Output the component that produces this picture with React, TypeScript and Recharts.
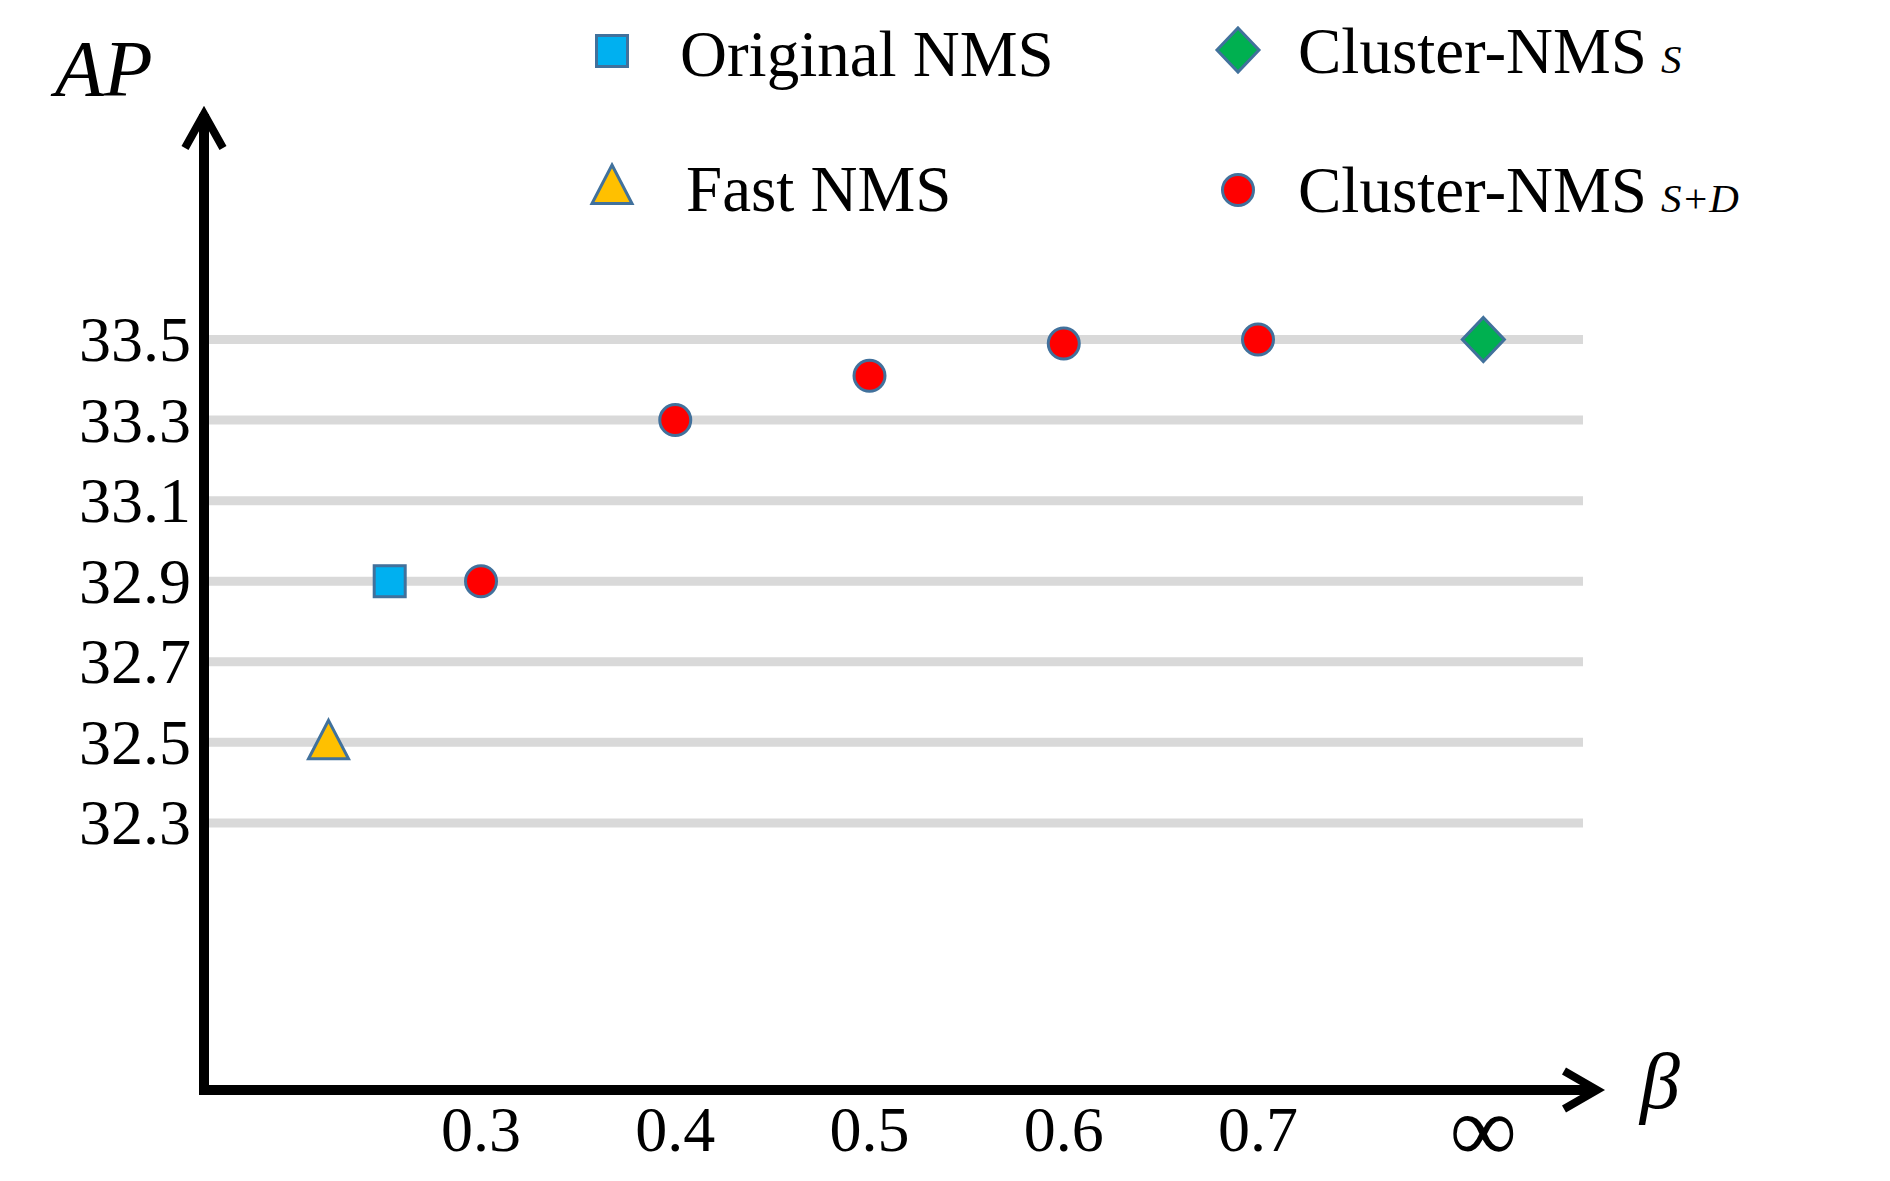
import {
  ScatterChart,
  Scatter,
  XAxis,
  YAxis,
  CartesianGrid,
  Customized,
} from 'recharts'

// beta values on the x axis; "∞" is drawn at its own slot past 0.7
const betaTicks = [0.3, 0.4, 0.5, 0.6, 0.7]
const INF_POS = 0.816
const xTicks = [...betaTicks, INF_POS]
const xTickLabels = ['0.3', '0.4', '0.5', '0.6', '0.7', '∞']

const apTicks = [32.3, 32.5, 32.7, 32.9, 33.1, 33.3, 33.5]

// Cluster-NMS S+D over beta
const clusterSDBeta = [0.3, 0.4, 0.5, 0.6, 0.7]
const clusterSDAP = [32.9, 33.3, 33.41, 33.49, 33.5]

// single-point methods (placed left of 0.3 like the figure)
const clusterSAP = 33.5
const originalPos = 0.253
const originalAP = 32.9
const fastPos = 0.2215
const fastAP = 32.5

const clusterSDData = clusterSDBeta.map((b, i) => ({ beta: b, ap: clusterSDAP[i] }))
const clusterSData = [{ beta: INF_POS, ap: clusterSAP }]
const originalData = [{ beta: originalPos, ap: originalAP }]
const fastData = [{ beta: fastPos, ap: fastAP }]

const W = 1890
const H = 1181
const PLOT_LEFT = 204
const PLOT_TOP = 120
const PLOT_RIGHT = 1583
const PLOT_BOTTOM = 1090
const Y_AXIS_W = 120
const X_AXIS_H = 40
const X_DOMAIN = [0.1574, 0.8673]
const Y_DOMAIN = [31.637, 34.045]

const FONT = '"Liberation Serif", "Times New Roman", serif'
const OUTLINE = '#41719C'
const RED = '#FF0000'
const CYAN = '#00B0F0'
const GOLD = '#FFC000'
const GREEN = '#00B050'

function CircleMark({ cx, cy }: any) {
  return <circle cx={cx} cy={cy} r={15.5} fill={RED} stroke={OUTLINE} strokeWidth={3} />
}

function SquareMark({ cx, cy }: any) {
  return (
    <rect x={cx - 15.5} y={cy - 15.5} width={31} height={31} fill={CYAN} stroke={OUTLINE} strokeWidth={3} />
  )
}

function TriangleMark({ cx, cy }: any) {
  return (
    <polygon
      points={`${cx},${cy - 22} ${cx + 20},${cy + 16.5} ${cx - 20},${cy + 16.5}`}
      fill={GOLD}
      stroke={OUTLINE}
      strokeWidth={3}
    />
  )
}

function DiamondMark({ cx, cy }: any) {
  return (
    <polygon
      points={`${cx},${cy - 22} ${cx + 21},${cy} ${cx},${cy + 22} ${cx - 21},${cy}`}
      fill={GREEN}
      stroke={OUTLINE}
      strokeWidth={3}
    />
  )
}

function XTick({ x, y, payload }: any) {
  const i = xTicks.indexOf(payload.value)
  const label = xTickLabels[i] ?? ''
  const isInf = label === '∞'
  return (
    <text
      x={x}
      y={y + 39}
      textAnchor="middle"
      dominantBaseline="central"
      fontFamily={FONT}
      fontSize={isInf ? 94 : 64}
      fill="#000"
    >
      {label}
    </text>
  )
}

function YTick({ x, y, payload }: any) {
  return (
    <text x={x - 13} y={y} textAnchor="end" dominantBaseline="central" fontFamily={FONT} fontSize={64} fill="#000">
      {Number(payload.value).toFixed(1)}
    </text>
  )
}

// horizontal grid only at the AP ticks
function gridRows({ offset }: any) {
  const top = offset?.top ?? PLOT_TOP
  const h = offset?.height ?? PLOT_BOTTOM - PLOT_TOP
  return apTicks.map((t) => top + ((Y_DOMAIN[1] - t) / (Y_DOMAIN[1] - Y_DOMAIN[0])) * h)
}

function Decorations() {
  const lw = 10
  return (
    <g>
      {/* axes with arrow heads */}
      <line x1={PLOT_LEFT} y1={PLOT_BOTTOM + lw / 2} x2={PLOT_LEFT} y2={114} stroke="#000" strokeWidth={lw} />
      <line x1={PLOT_LEFT - lw / 2} y1={PLOT_BOTTOM} x2={1592} y2={PLOT_BOTTOM} stroke="#000" strokeWidth={lw} />
      <polyline points={`185,148 ${PLOT_LEFT},114 223,148`} fill="none" stroke="#000" strokeWidth={8} strokeLinejoin="miter" />
      <polyline points={`1564,1071 1597,${PLOT_BOTTOM} 1564,1109`} fill="none" stroke="#000" strokeWidth={8} strokeLinejoin="miter" />

      <text x={55} y={96} fontFamily={FONT} fontStyle="italic" fontSize={80} fill="#000">AP</text>
      <text x={1640} y={1108} fontFamily={FONT} fontStyle="italic" fontSize={80} fill="#000">β</text>

      {/* legend */}
      <SquareMark cx={612} cy={51} />
      <text x={680} y={76} fontFamily={FONT} fontSize={65} fill="#000">Original NMS</text>
      <TriangleMark cx={612} cy={187} />
      <text x={686} y={211} fontFamily={FONT} fontSize={65} fill="#000">Fast NMS</text>
      <DiamondMark cx={1238} cy={50} />
      <text x={1298} y={73} fontFamily={FONT} fontSize={65} fill="#000">
        Cluster-NMS
        <tspan x={1661} fontStyle="italic" fontSize={41}>S</tspan>
      </text>
      <CircleMark cx={1238} cy={190} />
      <text x={1298} y={212} fontFamily={FONT} fontSize={65} fill="#000">
        Cluster-NMS
        <tspan x={1661} fontStyle="italic" fontSize={41}>S+D</tspan>
      </text>
    </g>
  )
}

export default function App() {
  return (
    <div style={{ position: 'absolute', left: 0, top: 0, background: '#fff' }}>
      <ScatterChart
        width={W}
        height={H}
        margin={{
          top: PLOT_TOP,
          left: PLOT_LEFT - Y_AXIS_W,
          right: W - PLOT_RIGHT,
          bottom: H - PLOT_BOTTOM - X_AXIS_H,
        }}
      >
        <CartesianGrid vertical={false} stroke="#D9D9D9" strokeWidth={9} horizontalCoordinatesGenerator={gridRows} />
        <XAxis
          type="number"
          dataKey="beta"
          domain={X_DOMAIN}
          allowDataOverflow
          ticks={xTicks}
          interval={0}
          height={X_AXIS_H}
          axisLine={false}
          tickLine={false}
          tickSize={0}
          tickMargin={0}
          tick={<XTick />}
        />
        <YAxis
          type="number"
          dataKey="ap"
          domain={Y_DOMAIN}
          allowDataOverflow
          ticks={apTicks}
          interval={0}
          width={Y_AXIS_W}
          axisLine={false}
          tickLine={false}
          tickSize={0}
          tickMargin={0}
          tick={<YTick />}
        />
        <Scatter name="Fast NMS" data={fastData} shape={TriangleMark} isAnimationActive={false} />
        <Scatter name="Original NMS" data={originalData} shape={SquareMark} isAnimationActive={false} />
        <Scatter name="Cluster-NMS S+D" data={clusterSDData} shape={CircleMark} isAnimationActive={false} />
        <Scatter name="Cluster-NMS S" data={clusterSData} shape={DiamondMark} isAnimationActive={false} />
        <Customized component={<Decorations />} />
      </ScatterChart>
    </div>
  )
}
